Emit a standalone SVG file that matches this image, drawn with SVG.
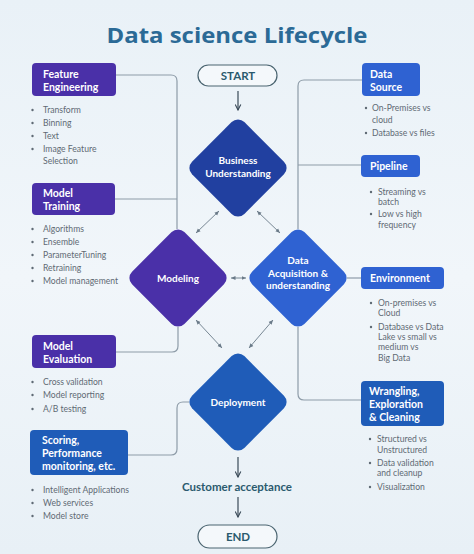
<svg xmlns="http://www.w3.org/2000/svg" width="474" height="554" viewBox="0 0 474 554">
<defs>
<linearGradient id="bg" x1="0" y1="0" x2="0" y2="1">
<stop offset="0" stop-color="#e9f1f7"/>
<stop offset="0.5" stop-color="#f1f6fa"/>
<stop offset="1" stop-color="#e8f0f6"/>
</linearGradient>
<marker id="ah" viewBox="0 0 10 10" refX="9" refY="5" markerWidth="7" markerHeight="7" orient="auto-start-reverse" markerUnits="userSpaceOnUse">
<path d="M1,1 L9,5 L1,9" fill="none" stroke="#3a4a58" stroke-width="1.6"/>
</marker>
<marker id="sm" viewBox="0 0 10 10" refX="9" refY="5" markerWidth="5" markerHeight="5" orient="auto-start-reverse" markerUnits="userSpaceOnUse">
<path d="M0,1 L9,5 L0,9 Z" fill="#6a7a88"/>
</marker>
</defs>
<style>
.title{font-family:"Open Sans","Liberation Sans",sans-serif;font-weight:700;font-size:22px;fill:#2b6a96}
.bt{font-family:Lato,"Liberation Sans",sans-serif;font-weight:700;font-size:10.5px;fill:#ffffff}
.dt{font-family:Lato,"Liberation Sans",sans-serif;font-weight:700;font-size:10px;fill:#ffffff;text-anchor:middle}
.li{font-family:Lato,"Liberation Sans",sans-serif;font-size:8.6px;fill:#5f6a74}
.dot{fill:#5f6a74}
.conn{fill:none;stroke:#8e9ca8;stroke-width:1.2}
.arr{fill:none;stroke:#3a4a58;stroke-width:1.2}
.dbl{fill:none;stroke:#6a7a88;stroke-width:0.9}
.pill{fill:#f4f8fb;stroke:#4a6470;stroke-width:1.2}
.pt{font-family:Lato,"Liberation Sans",sans-serif;font-weight:700;font-size:11.5px;fill:#2a5a6e;text-anchor:middle}
.purple{fill:#4a30a8}
.dblue{fill:#2140a0}
.mblue{fill:#1f5cb8}
.bblue{fill:#2f62d2}
</style>
<rect width="474" height="554" fill="url(#bg)"/>
<text class="title" x="237" y="43" text-anchor="middle" textLength="261" lengthAdjust="spacingAndGlyphs">Data science Lifecycle</text>

<g id="connectors">
<path class="conn" d="M116,75 H171 Q177,75 177,81 V229"/>
<path class="conn" d="M115,199 H177"/>
<path class="conn" d="M178,327 V346 Q178,352 172,352 H116"/>
<path class="conn" d="M189,402 H183 Q177,402 177,408 V449 Q177,455 171,455 H128"/>
<path class="conn" d="M362,80 H304 Q298,80 298,86 V229"/>
<path class="conn" d="M298,165 H361"/>
<path class="conn" d="M347,278 H361"/>
<path class="conn" d="M298,327 V394 Q298,400 304,400 H361"/>
<path class="arr" d="M238,91 V110" marker-end="url(#ah)"/>
<path class="arr" d="M238,457 V477" marker-end="url(#ah)"/>
<path class="arr" d="M238,497 V517" marker-end="url(#ah)"/>
<path class="dbl" d="M219,211 L196,233" marker-start="url(#sm)" marker-end="url(#sm)"/>
<path class="dbl" d="M257,211 L280,233" marker-start="url(#sm)" marker-end="url(#sm)"/>
<path class="dbl" d="M231,278 H246" marker-start="url(#sm)" marker-end="url(#sm)"/>
<path class="dbl" d="M196,320 L222,348" marker-start="url(#sm)" marker-end="url(#sm)"/>
<path class="dbl" d="M273,320 L249,348" marker-start="url(#sm)" marker-end="url(#sm)"/>
</g>

<g id="start">
<rect class="pill" x="198" y="65" width="79" height="21" rx="10.5"/>
<text class="pt" x="238" y="79.5">START</text>
</g>

<g id="business-understanding">
<rect class="dblue" x="-37" y="-37" width="74" height="74" rx="9" transform="translate(238,168) rotate(45)"/>
<text class="dt" x="238" y="164">Business</text>
<text class="dt" x="238" y="176.5">Understanding</text>
</g>

<g id="modeling">
<rect class="purple" x="-37" y="-37" width="74" height="74" rx="9" transform="translate(178,278) rotate(45)"/>
<text class="dt" x="178" y="282">Modeling</text>
</g>

<g id="data-acquisition">
<rect class="bblue" x="-37" y="-37" width="74" height="74" rx="9" transform="translate(298,278) rotate(45)"/>
<text class="dt" x="298" y="264">Data</text>
<text class="dt" x="298" y="276.5">Acquisition &amp;</text>
<text class="dt" x="298" y="289">understanding</text>
</g>

<g id="deployment">
<rect class="mblue" x="-37" y="-37" width="74" height="74" rx="9" transform="translate(238,402) rotate(45)"/>
<text class="dt" x="238" y="405.5">Deployment</text>
</g>

<g id="customer-acceptance">
<text class="pt" x="237" y="491">Customer acceptance</text>
</g>

<g id="end">
<rect class="pill" x="198" y="525" width="79" height="23" rx="11.5"/>
<text class="pt" x="238" y="540.5">END</text>
</g>

<g id="feature-engineering">
<rect class="purple" x="32" y="63" width="84" height="33" rx="4"/>
<text class="bt" x="43" y="77.5">Feature</text>
<text class="bt" x="43" y="91">Engineering</text>
<circle class="dot" cx="32.5" cy="110" r="1.2"/><text class="li" x="43" y="113">Transform</text>
<circle class="dot" cx="32.5" cy="123" r="1.2"/><text class="li" x="43" y="126">Binning</text>
<circle class="dot" cx="32.5" cy="136" r="1.2"/><text class="li" x="43" y="139">Text</text>
<circle class="dot" cx="32.5" cy="149" r="1.2"/><text class="li" x="43" y="152">Image Feature</text>
<text class="li" x="43" y="164">Selection</text>
</g>

<g id="model-training">
<rect class="purple" x="32" y="183" width="83" height="32" rx="4"/>
<text class="bt" x="43" y="196.5">Model</text>
<text class="bt" x="43" y="210">Training</text>
<circle class="dot" cx="32.5" cy="229" r="1.2"/><text class="li" x="43" y="232">Algorithms</text>
<circle class="dot" cx="32.5" cy="242" r="1.2"/><text class="li" x="43" y="245">Ensemble</text>
<circle class="dot" cx="32.5" cy="255" r="1.2"/><text class="li" x="43" y="258">ParameterTuning</text>
<circle class="dot" cx="32.5" cy="268" r="1.2"/><text class="li" x="43" y="271">Retraining</text>
<circle class="dot" cx="32.5" cy="281" r="1.2"/><text class="li" x="43" y="284">Model management</text>
</g>

<g id="model-evaluation">
<rect class="purple" x="32" y="335" width="84" height="33" rx="4"/>
<text class="bt" x="43" y="349.5">Model</text>
<text class="bt" x="43" y="363">Evaluation</text>
<circle class="dot" cx="32.5" cy="382" r="1.2"/><text class="li" x="43" y="385">Cross validation</text>
<circle class="dot" cx="32.5" cy="395" r="1.2"/><text class="li" x="43" y="398">Model reporting</text>
<circle class="dot" cx="32.5" cy="409" r="1.2"/><text class="li" x="43" y="412">A/B testing</text>
</g>

<g id="scoring">
<rect class="mblue" x="30" y="430" width="98" height="45" rx="4"/>
<text class="bt" x="42" y="443.5">Scoring,</text>
<text class="bt" x="42" y="456.5">Performance</text>
<text class="bt" x="42" y="470">monitoring, etc.</text>
<circle class="dot" cx="32.5" cy="490" r="1.2"/><text class="li" x="43" y="493">Intelligent Applications</text>
<circle class="dot" cx="32.5" cy="503" r="1.2"/><text class="li" x="43" y="506">Web services</text>
<circle class="dot" cx="32.5" cy="516" r="1.2"/><text class="li" x="43" y="519">Model store</text>
</g>

<g id="data-source">
<rect class="bblue" x="362" y="63" width="58" height="33" rx="4"/>
<text class="bt" x="370" y="77.5">Data</text>
<text class="bt" x="370" y="91">Source</text>
<circle class="dot" cx="366" cy="108" r="1.2"/><text class="li" x="372" y="111">On-Premises vs</text>
<text class="li" x="372" y="123">cloud</text>
<circle class="dot" cx="366" cy="133" r="1.2"/><text class="li" x="372" y="136">Database vs files</text>
</g>

<g id="pipeline">
<rect class="bblue" x="361" y="155" width="59" height="22" rx="4"/>
<text class="bt" x="370" y="169.5">Pipeline</text>
<circle class="dot" cx="371" cy="192" r="1.2"/><text class="li" x="378" y="195">Streaming vs</text>
<text class="li" x="378" y="205">batch</text>
<circle class="dot" cx="371" cy="214" r="1.2"/><text class="li" x="378" y="217">Low vs high</text>
<text class="li" x="378" y="228">frequency</text>
</g>

<g id="environment">
<rect class="bblue" x="361" y="267" width="83" height="22" rx="4"/>
<text class="bt" x="370" y="281.5">Environment</text>
<circle class="dot" cx="371" cy="303" r="1.2"/><text class="li" x="378" y="306">On-premises vs</text>
<text class="li" x="378" y="316">Cloud</text>
<circle class="dot" cx="371" cy="327" r="1.2"/><text class="li" x="378" y="330">Database vs Data</text>
<text class="li" x="378" y="340">Lake vs small vs</text>
<text class="li" x="378" y="350">medium vs</text>
<text class="li" x="378" y="361">Big Data</text>
</g>

<g id="wrangling">
<rect class="mblue" x="361" y="381" width="83" height="45" rx="4"/>
<text class="bt" x="369" y="394.5">Wrangling,</text>
<text class="bt" x="369" y="407.5">Exploration</text>
<text class="bt" x="369" y="421">&amp; Cleaning</text>
<circle class="dot" cx="370" cy="439" r="1.2"/><text class="li" x="377" y="442">Structured vs</text>
<text class="li" x="377" y="453">Unstructured</text>
<circle class="dot" cx="370" cy="463" r="1.2"/><text class="li" x="377" y="466">Data validation</text>
<text class="li" x="377" y="476">and cleanup</text>
<circle class="dot" cx="370" cy="487" r="1.2"/><text class="li" x="377" y="490">Visualization</text>
</g>
</svg>
